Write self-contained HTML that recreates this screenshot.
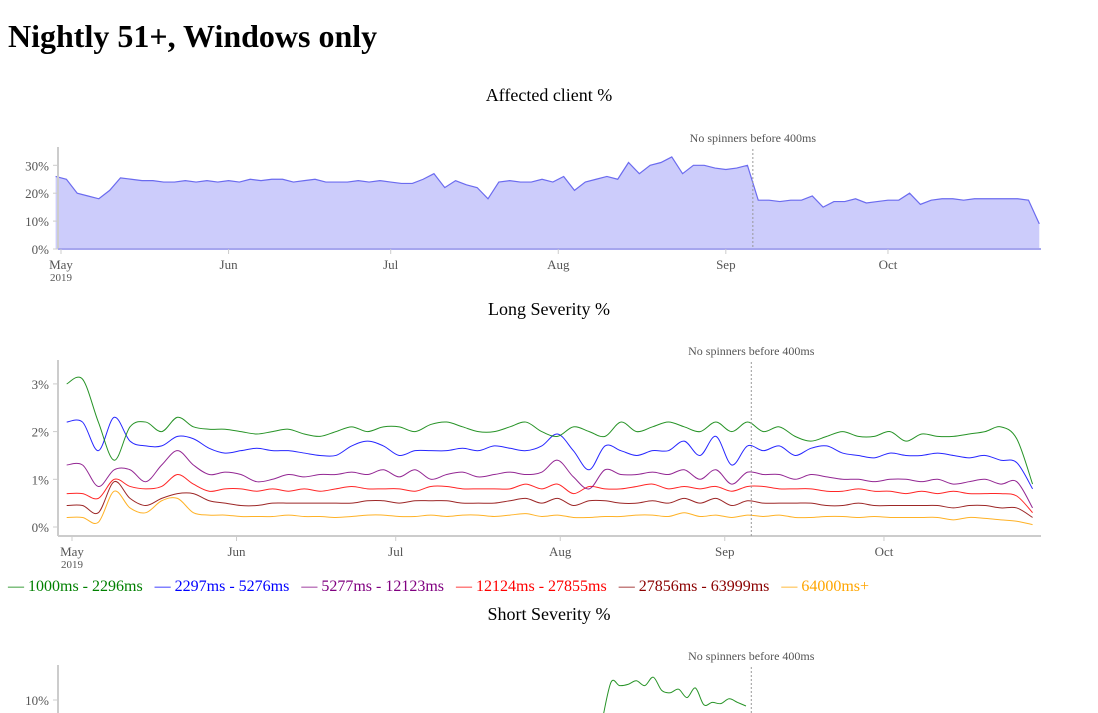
<!DOCTYPE html>
<html><head><meta charset="utf-8"><style>
body{margin:0;background:#fff;width:1098px;height:713px;overflow:hidden;font-family:"Liberation Serif",serif;position:relative}
h1{position:absolute;left:8px;top:18px;margin:0;font-size:32px;font-weight:bold;color:#000}
.ct{position:absolute;width:1098px;text-align:center;font-size:18px;color:#000;left:0}
svg{position:absolute;left:0;top:0}
text{font-family:"Liberation Serif",serif}
#legend{position:absolute;left:8px;top:578px;font-size:16px;white-space:nowrap}
#legend span{margin-right:8px}
</style></head><body>
<h1>Nightly 51+, Windows only</h1>
<div class="ct" style="top:85px">Affected client %</div>
<div class="ct" style="top:299px">Long Severity %</div>
<div class="ct" style="top:604px">Short Severity %</div>
<div id="legend">
<span style="color:green">— 1000ms - 2296ms</span>
<span style="color:blue">— 2297ms - 5276ms</span>
<span style="color:purple">— 5277ms - 12123ms</span>
<span style="color:red">— 12124ms - 27855ms</span>
<span style="color:darkred">— 27856ms - 63999ms</span>
<span style="color:orange">— 64000ms+</span>
</div>
<svg id="svg" width="1098" height="713"></svg>
<script>
const affectedVals=[26,25,20,19,18,21,25.5,25,24.5,24.5,24,24,24.5,24,24.5,24,24.5,24,25,24.5,25,25,24,24.5,25,24,24,24,24.5,24,24.5,24,23.5,23.5,25,27,22,24.5,23,22,18,24,24.5,24,24,25,24,26,21,24,25,26,25,31,27,30,31,33,27,30,30,29,28.5,29,30,17.5,17.5,17,17.5,17.5,19,15,17,17,18,16.5,17,17.5,17.5,20,16,17.5,18,18,17.5,18,18,18,18,18,17.5,9];
const affectedTicks=["0%","10%","20%","30%"];
const monthLabels=["May","Jun","Jul","Aug","Sep","Oct"];
const monthDays=[1,32,62,93,124,154];
const sGreen=[3.0,3.1,2.2,1.4,2.1,2.2,2.0,2.3,2.1,2.05,2.05,2.0,1.95,2.0,2.05,1.95,1.9,2.0,2.1,2.0,2.1,2.1,2.0,2.15,2.2,2.1,2.0,2.0,2.1,2.2,2.0,1.9,2.1,2.0,1.9,2.2,2.0,2.1,2.2,2.1,2.0,2.2,2.0,2.2,2.0,2.1,1.9,1.8,1.9,2.0,1.9,1.9,2.0,1.8,1.95,1.9,1.9,1.95,2.0,2.1,1.85,0.9];
const sBlue=[2.2,2.2,1.6,2.3,1.8,1.7,1.7,1.9,1.85,1.65,1.55,1.6,1.65,1.6,1.6,1.55,1.5,1.5,1.7,1.8,1.7,1.5,1.6,1.6,1.6,1.65,1.6,1.7,1.65,1.6,1.7,1.95,1.6,1.2,1.7,1.6,1.5,1.6,1.6,1.8,1.5,1.9,1.3,1.7,1.6,1.7,1.5,1.65,1.7,1.55,1.5,1.45,1.55,1.5,1.5,1.55,1.5,1.45,1.5,1.4,1.35,0.8];
const sPurple=[1.3,1.3,0.85,1.2,1.2,0.95,1.3,1.6,1.3,1.1,1.15,1.1,0.95,1.0,1.1,1.05,1.1,1.1,1.15,1.1,1.2,1.05,1.2,1.0,1.1,1.15,1.05,1.1,1.15,1.1,1.15,1.4,1.05,0.8,1.2,1.1,1.1,1.15,1.1,1.2,1.0,1.2,0.9,1.15,1.1,1.1,1.0,1.1,1.05,1.0,1.0,0.95,1.0,1.0,0.95,1.0,0.9,0.95,1.0,0.9,0.95,0.4];
const sRed=[0.7,0.7,0.6,1.0,0.85,0.8,0.85,1.1,0.9,0.75,0.8,0.8,0.75,0.8,0.75,0.8,0.75,0.8,0.85,0.8,0.8,0.8,0.75,0.85,0.85,0.8,0.8,0.8,0.8,0.9,0.8,0.9,0.7,0.85,0.8,0.8,0.85,0.9,0.8,0.85,0.8,0.85,0.75,0.85,0.85,0.8,0.8,0.8,0.75,0.75,0.8,0.75,0.75,0.7,0.75,0.7,0.75,0.7,0.7,0.7,0.65,0.3];
const sDarkRed=[0.45,0.45,0.3,0.95,0.6,0.45,0.6,0.7,0.7,0.55,0.5,0.45,0.45,0.5,0.5,0.5,0.5,0.5,0.5,0.55,0.55,0.5,0.55,0.55,0.55,0.5,0.5,0.5,0.55,0.6,0.5,0.6,0.45,0.55,0.55,0.5,0.5,0.55,0.5,0.6,0.5,0.6,0.45,0.55,0.5,0.5,0.5,0.5,0.45,0.45,0.5,0.45,0.45,0.45,0.45,0.45,0.4,0.45,0.45,0.4,0.4,0.2];
const sOrange=[0.2,0.2,0.1,0.75,0.4,0.3,0.55,0.6,0.3,0.25,0.25,0.22,0.22,0.22,0.25,0.22,0.22,0.2,0.22,0.25,0.25,0.22,0.22,0.25,0.22,0.25,0.25,0.22,0.25,0.28,0.22,0.25,0.2,0.2,0.22,0.22,0.25,0.25,0.22,0.3,0.22,0.25,0.2,0.25,0.22,0.25,0.2,0.2,0.22,0.22,0.2,0.22,0.2,0.2,0.2,0.2,0.15,0.2,0.18,0.15,0.12,0.05];
const longTicks=["0%","1%","2%","3%"];
const shortGreen=[8.5,11.5,11.2,11.3,11.6,11.2,11.9,10.8,10.6,10.9,10.2,11.0,9.6,9.8,9.7,10.1,9.8,9.5];
const shortStartDay=101, shortEndDay=128;
const markerDay=129;

const S=document.getElementById('svg');const NS='http://www.w3.org/2000/svg';
function mk(t,a,p){const e=document.createElementNS(NS,t);for(const k in a)e.setAttribute(k,a[k]);(p||S).appendChild(e);return e;}
function smooth(pts){let d='M'+pts[0][0]+','+pts[0][1];for(let i=0;i<pts.length-1;i++){const p0=pts[i-1]||pts[i],p1=pts[i],p2=pts[i+1],p3=pts[i+2]||p2;d+=' C'+(p1[0]+(p2[0]-p0[0])/6)+','+(p1[1]+(p2[1]-p0[1])/6)+' '+(p2[0]-(p3[0]-p1[0])/6)+','+(p2[1]-(p3[1]-p1[1])/6)+' '+p2[0]+','+p2[1];}return d;}
function axes(o){
  const ax=mk('line',{x1:o.ax,x2:o.ax,y1:o.top,y2:o.y0,stroke:'#ccc','stroke-width':2});
  if(o.xaxis){const bx=mk('line',{x1:o.ax,x2:1041,y1:o.y0,y2:o.y0,stroke:o.bc||'#ccc','stroke-width':2});
    monthLabels.forEach((m,i)=>{const x=o.x(monthDays[i]);mk('line',{x1:x,x2:x,y1:o.y0,y2:o.y0+5,stroke:'#ccc'});const t=mk('text',{x:x,y:o.y0+20,'text-anchor':'middle','font-size':13,fill:'#555'});t.textContent=m;});
    const yt=mk('text',{x:o.x(1),y:o.y0+32,'text-anchor':'middle','font-size':11,fill:'#555'});yt.textContent='2019';}
  o.ticks.forEach((l,i)=>{const y=o.y(o.tv[i]);if(y>713+10)return;mk('line',{x1:o.ax-5,x2:o.ax,y1:y,y2:y,stroke:'#ccc'});const t=mk('text',{x:o.ax-9,y:y+5,'text-anchor':'end','font-size':13,fill:'#555'});t.textContent=l;});
  const mx=o.x(markerDay);const ml=mk('line',{x1:mx,x2:mx,y1:o.top+2,y2:Math.min(o.y0,713),stroke:'#999','stroke-dasharray':'2,2'});
  const mt=mk('text',{x:mx,y:o.top-5,'text-anchor':'middle','font-size':12,fill:'#555'});mt.textContent='No spinners before 400ms';
}
// chart 1
(function(){const x=d=>61+(d-1)*5.405,y=v=>249-v*2.79;
 const pts=affectedVals.map((v,i)=>[x(0+i*2),y(v)]);
 const g=mk('g',{});
 let d='M'+pts.map(p=>p.join(',')).join(' L');const a=mk('path',{d:d+' L'+pts[pts.length-1][0]+','+y(0)+' L'+pts[0][0]+','+y(0)+'Z',fill:'#ccccfb'},g);
 const l=mk('path',{d:d,fill:'none',stroke:'#6b6bef','stroke-width':1.2},g);
 axes({n:'affected',ax:58,top:147,y0:249,x:x,y:y,ticks:affectedTicks,tv:[0,10,20,30],xaxis:true,bc:'#a6a6ee'});})();
// chart 2
(function(){const x=d=>72+(d-1)*5.307,y=v=>527-v*47.7;
 const series=[[sGreen,'green'],[sBlue,'blue'],[sPurple,'purple'],[sRed,'red'],[sDarkRed,'darkred'],[sOrange,'orange']];
 series.slice().reverse().forEach(([arr,c])=>{const step=182/(arr.length-1);const pts=arr.map((v,i)=>[x(0+i*step),y(v)]);const p=mk('path',{d:smooth(pts),fill:'none',stroke:c,'stroke-width':1,opacity:0.85});});
 axes({n:'long',ax:58,top:360,y0:536,x:x,y:y,ticks:longTicks,tv:[0,1,2,3],xaxis:true});})();
// chart 3
(function(){const x=d=>72+(d-1)*5.307,y=v=>820-v*12;
 const step=(shortEndDay-shortStartDay)/(shortGreen.length-1);const pts=shortGreen.map((v,i)=>[x(shortStartDay+i*step),y(v)]);
 const p=mk('path',{d:smooth(pts),fill:'none',stroke:'green','stroke-width':1,opacity:0.85});
 axes({n:'short',ax:58,top:665,y0:713,x:x,y:y,ticks:["10%"],tv:[10],xaxis:false});})();
</script>
</body></html>
